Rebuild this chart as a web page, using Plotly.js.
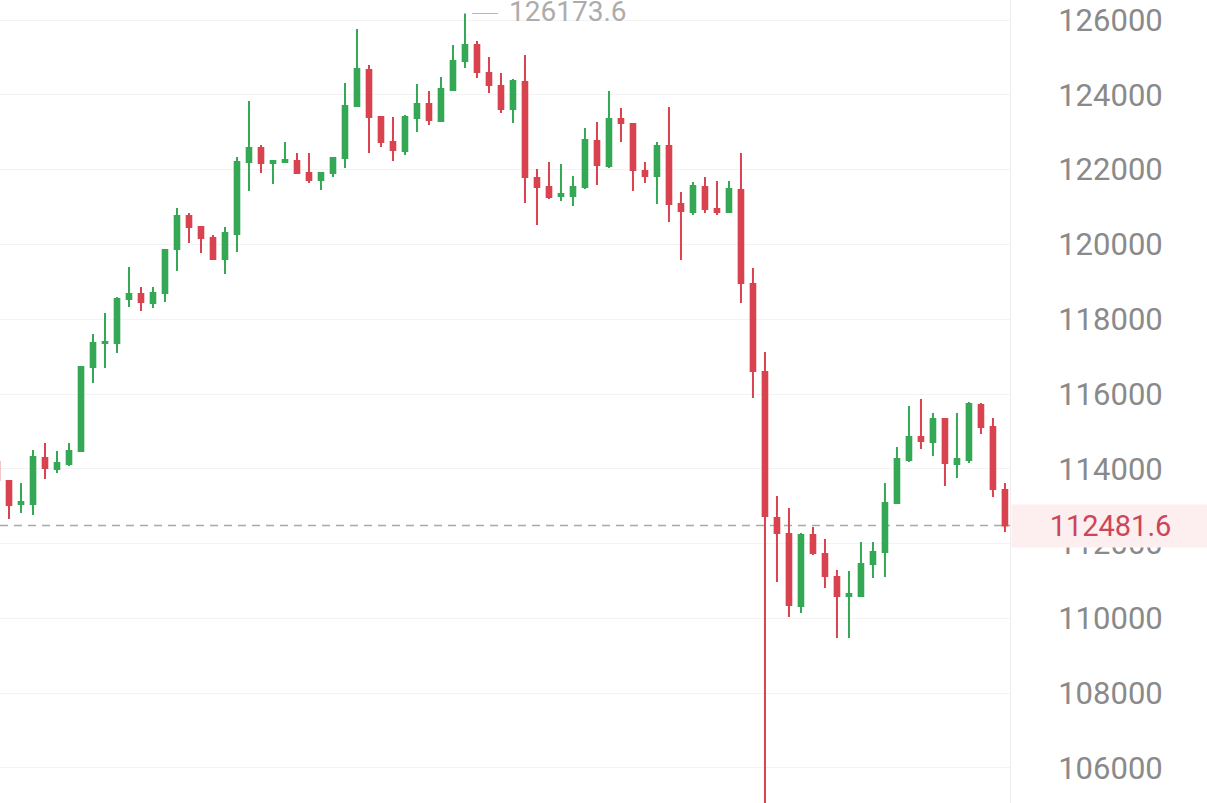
<!DOCTYPE html>
<html>
<head>
<meta charset="utf-8">
<script src="https://cdn.plot.ly/plotly-3.0.1.min.js"></script>
<style>html,body{margin:0;padding:0;background:#fff;}#chart{width:1207px;height:803px;}</style>
</head>
<body>
<div id="chart"></div>
<script>
// Candle index (0 = partially visible candle at left edge)
const candleIndex = Array.from({length: 85}, (_, i) => i);

const openPrices = [
  114182, 113674, 113059, 113059, 114289, 113995, 114128, 114476, 116722, 117364,
  117364, 118540, 118674, 118433, 118701, 119877, 120759, 120465, 120171, 119610,
  120278, 122203, 122578, 122176, 122203, 122230, 121909, 121722, 121909, 122310,
  123701, 124663, 123406, 122738, 122497, 123380, 123754, 123299, 124128, 124904,
  125332, 124583, 124235, 123620, 124342, 121775, 121535, 121294, 121294, 121535,
  122765, 122096, 123353, 123219, 121963, 121829, 122631, 121080, 120866, 121535,
  120947, 120866, 121455, 118941, 116588, 112685, 112256, 110331, 112230, 111722,
  111107, 110599, 110599, 111455, 111775, 113086, 114235, 114850, 114716, 115332,
  114128, 114235, 115706, 115118, 113433
];
const highPrices = [
  114316, 113701, 113620, 114503, 114690, 114476, 114690, 116749, 117604, 118166,
  118594, 119396, 118861, 118861, 119877, 120973, 120840, 120492, 120251, 120465,
  122337, 123834, 122658, 122257, 122738, 122444, 122444, 121936, 122337, 124316,
  125759, 124797, 123433, 123406, 123460, 124289, 124102, 124476, 125332, 126173.6,
  125439, 125011, 124583, 124422, 125064, 122016, 122203, 122150, 121829, 123112,
  123273, 124102, 123647, 123246, 122203, 122738, 123674, 121401, 121668, 121802,
  121695, 121695, 122444, 119369, 117123, 113273, 112952, 112283, 112444, 112123,
  111294, 111267, 112043, 112043, 113620, 114583, 115679, 115866, 115492, 115358,
  115492, 115786, 115760, 115358, 113620
];
const lowPrices = [
  113647, 112658, 112818, 112765, 113727, 113888, 114075, 114449, 116294, 116695,
  117096, 118326, 118219, 118299, 118460, 119289, 120037, 119770, 119583, 119209,
  119797, 121428, 121909, 121615, 122190, 121882, 121642, 121455, 121802, 122043,
  123674, 122444, 122604, 122230, 122390, 123005, 123193, 123290, 124102, 124717,
  124449, 124048, 123513, 123246, 121107, 120519, 121214, 121160, 121027, 121481,
  121588, 122043, 122738, 121428, 121642, 121080, 120599, 119583, 120786, 120840,
  120786, 120840, 118433, 115893, 104782, 110973, 110037, 110144, 111696, 110813,
  109476, 109476, 110572, 111080, 111107, 113070, 114182, 114529, 114342, 113540,
  113754, 114155, 114931, 113246, 112310
];
const closePrices = [
  113701, 113032, 113112, 114316, 114021, 114155, 114476, 116722, 117364, 117391,
  118540, 118674, 118460, 118701, 119850, 120759, 120465, 120171, 119610, 120305,
  122203, 122578, 122176, 122230, 122257, 121909, 121722, 121909, 122310, 123701,
  124690, 123406, 122738, 122524, 123406, 123754, 123326, 124155, 124904, 125332,
  124610, 124262, 123620, 124369, 121802, 121535, 121267, 121348, 121535, 122791,
  122123, 123353, 123246, 121989, 121829, 122631, 121080, 120893, 121561, 120947,
  120866, 121481, 118968, 116615, 112738, 112283, 110358, 112230, 111749, 111134,
  110599, 110652, 111455, 111775, 113086, 114262, 114850, 114743, 115332, 114155,
  114262, 115733, 115118, 113460, 112481.6
];

const tickValues = [106000, 108000, 110000, 112000, 114000, 116000, 118000, 120000, 122000, 124000, 126000];
const tickLabels = ['106000', '108000', '110000', '112000', '114000', '116000', '118000', '120000', '122000', '124000', '126000'];

const lastPrice = 112481.6;
const lastPriceLabel = '112481.6';
const highestPrice = 126173.6;
const highestPriceLabel = '126173.6';
const highestIndex = 39;

const GREEN = '#35a856';
const RED = '#d8434f';

const trace = {
  type: 'candlestick',
  x: candleIndex,
  open: openPrices,
  high: highPrices,
  low: lowPrices,
  close: closePrices,
  increasing: {line: {color: GREEN, width: 2}, fillcolor: GREEN},
  decreasing: {line: {color: RED, width: 2}, fillcolor: RED},
  whiskerwidth: 0,
  hoverinfo: 'skip',
  showlegend: false
};

const layout = {
  width: 1207,
  height: 803,
  margin: {l: 0, r: 197, t: 0, b: 0, pad: 0},
  paper_bgcolor: '#ffffff',
  plot_bgcolor: '#ffffff',
  boxgap: 0.45,
  showlegend: false,
  font: {family: 'Roboto, "Noto Sans", sans-serif'},
  xaxis: {
    range: [0.25, 84.42],
    showgrid: false,
    zeroline: false,
    showticklabels: false,
    ticks: '',
    showline: false,
    rangeslider: {visible: false},
    fixedrange: true
  },
  yaxis: {
    side: 'right',
    range: [105064, 126535],
    tickmode: 'array',
    tickvals: tickValues,
    ticktext: tickLabels,
    ticks: '',
    ticklabelstandoff: 41,
    tickfont: {family: 'Roboto, sans-serif', size: 31, color: '#8a8a8a'},
    showgrid: true,
    gridcolor: '#f3f3f3',
    gridwidth: 1,
    zeroline: false,
    showline: true,
    linecolor: '#eeeeee',
    linewidth: 1,
    fixedrange: true
  },
  shapes: [
    {
      type: 'line', xref: 'paper', yref: 'y',
      x0: 0, x1: 1, y0: lastPrice, y1: lastPrice,
      line: {color: '#a8a8a8', width: 1.5, dash: '8px,6px'},
      layer: 'below'
    },
    {
      type: 'line', xref: 'x', yref: 'y',
      x0: highestIndex + 0.6, x1: highestIndex + 2.75, y0: highestPrice, y1: highestPrice,
      line: {color: '#b5b5b5', width: 1}
    }
  ],
  annotations: [
    {
      xref: 'paper', yref: 'y', x: 1, y: lastPrice,
      xanchor: 'left', yanchor: 'middle', xshift: 1,
      text: lastPriceLabel, showarrow: false,
      width: 195, height: 40, align: 'center',
      bgcolor: '#fdeeef',
      font: {family: 'Roboto, sans-serif', size: 29, color: '#cc4659'}
    },
    {
      xref: 'x', yref: 'y', x: highestIndex + 3.5, y: highestPrice,
      xanchor: 'left', yanchor: 'middle', yshift: 2,
      text: highestPriceLabel, showarrow: false,
      font: {family: 'Roboto, sans-serif', size: 28, color: '#acacac'}
    }
  ]
};

Plotly.newPlot('chart', [trace], layout, {staticPlot: true, displayModeBar: false});
</script>
</body>
</html>
